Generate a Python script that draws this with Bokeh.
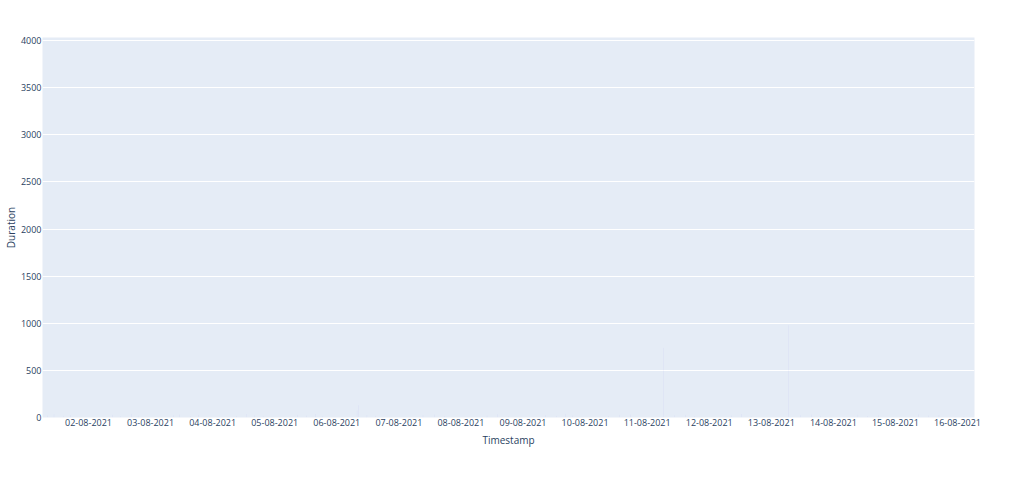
import pandas as pd
from bokeh.plotting import figure
from bokeh.models import Range1d, FixedTicker, DatetimeTickFormatter, ColumnDataSource
from bokeh.embed import file_html
from bokeh.resources import INLINE

# ---- data (bars are extremely thin and faint) ----
timestamps = [
    "2021-08-01 08:10", "2021-08-01 10:40", "2021-08-01 14:20", "2021-08-01 17:05",
    "2021-08-02 09:15", "2021-08-02 12:30", "2021-08-02 16:45", "2021-08-02 19:10",
    "2021-08-03 08:50", "2021-08-03 11:20", "2021-08-03 15:35", "2021-08-03 18:40",
    "2021-08-04 09:05", "2021-08-04 13:15", "2021-08-04 16:20", "2021-08-04 19:30",
    "2021-08-05 08:40", "2021-08-05 12:10", "2021-08-05 15:50", "2021-08-05 18:25",
    "2021-08-06 07:50", "2021-08-06 08:25", "2021-08-06 11:40", "2021-08-06 15:05",
    "2021-08-07 09:20", "2021-08-07 13:45", "2021-08-07 17:30",
    "2021-08-08 10:05", "2021-08-08 14:10", "2021-08-08 18:15",
    "2021-08-09 08:35", "2021-08-09 12:50", "2021-08-09 16:30", "2021-08-09 19:05",
    "2021-08-10 09:10", "2021-08-10 13:25", "2021-08-10 17:40",
    "2021-08-11 06:15", "2021-08-11 10:30", "2021-08-11 14:55", "2021-08-11 18:20",
    "2021-08-12 08:45", "2021-08-12 12:35", "2021-08-12 16:10",
    "2021-08-13 06:40", "2021-08-13 11:15", "2021-08-13 15:30", "2021-08-13 19:00",
    "2021-08-14 09:30", "2021-08-14 13:05", "2021-08-14 17:20",
    "2021-08-15 08:55", "2021-08-15 12:40", "2021-08-15 16:50",
    "2021-08-16 02:30",
]
durations = [
    22, 35, 18, 27,
    30, 14, 41, 19,
    25, 33, 12, 28,
    17, 38, 24, 15,
    29, 21, 36, 13,
    75, 130, 26, 18,
    23, 31, 16,
    20, 34, 12,
    27, 19, 39, 22,
    15, 28, 33,
    740, 24, 30, 17,
    21, 36, 14,
    980, 25, 32, 18,
    29, 16, 23,
    35, 20, 27,
    12,
]
tick_labels = ["2021-08-%02d" % d for d in [2, 3, 4, 5, 6, 7, 8, 9, 10, 11, 12, 13, 14, 15, 16]]
y_ticks = [0, 500, 1000, 1500, 2000, 2500, 3000, 3500, 4000]

x_start = "2021-08-01 06:13"
x_end = "2021-08-16 06:34"
y_max = 4032

# ---- build ----
src = ColumnDataSource(dict(t=pd.to_datetime(timestamps), d=durations))

FONT = "Open Sans"
TXT = "#2a3f5f"

p = figure(
    frame_width=932, frame_height=380,
    x_axis_type="datetime",
    x_range=Range1d(pd.Timestamp(x_start), pd.Timestamp(x_end)),
    y_range=Range1d(0, y_max),
    output_backend="svg", toolbar_location=None,
    min_border_left=42, min_border_right=50, min_border_top=37, min_border_bottom=40,
    background_fill_color="#e5ecf6", border_fill_color="white",
    outline_line_color=None,
)

p.vbar(x="t", top="d", width=5 * 60 * 1000, source=src,
       fill_color="#636efa", fill_alpha=0.2, line_color=None)

tick_ms = [pd.Timestamp(t).value // 10**6 for t in tick_labels]
p.xaxis.ticker = FixedTicker(ticks=tick_ms)
p.xaxis.formatter = DatetimeTickFormatter(days="%d-%m-%Y", months="%d-%m-%Y",
                                          hours="%d-%m-%Y", years="%d-%m-%Y")
p.yaxis.ticker = FixedTicker(ticks=y_ticks)

for ax in (p.xaxis[0], p.yaxis[0]):
    ax.axis_line_color = None
    ax.major_tick_line_color = None
    ax.minor_tick_line_color = None
    ax.major_tick_out = 0
    ax.major_tick_in = 0
    ax.minor_tick_out = 0
    ax.minor_tick_in = 0
    ax.major_label_text_font = FONT
    ax.major_label_text_font_size = "9px"
    ax.major_label_text_color = TXT
    ax.axis_label_text_font = FONT
    ax.axis_label_text_font_size = "10px"
    ax.axis_label_text_font_style = "normal"
    ax.axis_label_text_color = TXT

p.xaxis.axis_label = "Timestamp"
p.yaxis.axis_label = "Duration"
p.xaxis.major_label_standoff = 1
p.xaxis.axis_label_standoff = 4
p.yaxis.major_label_standoff = 1
p.yaxis.axis_label_standoff = 0

p.xgrid.grid_line_color = None
p.ygrid.grid_line_color = "white"
p.ygrid.grid_line_width = 1

open("out.html", "w").write(file_html(p, INLINE))
